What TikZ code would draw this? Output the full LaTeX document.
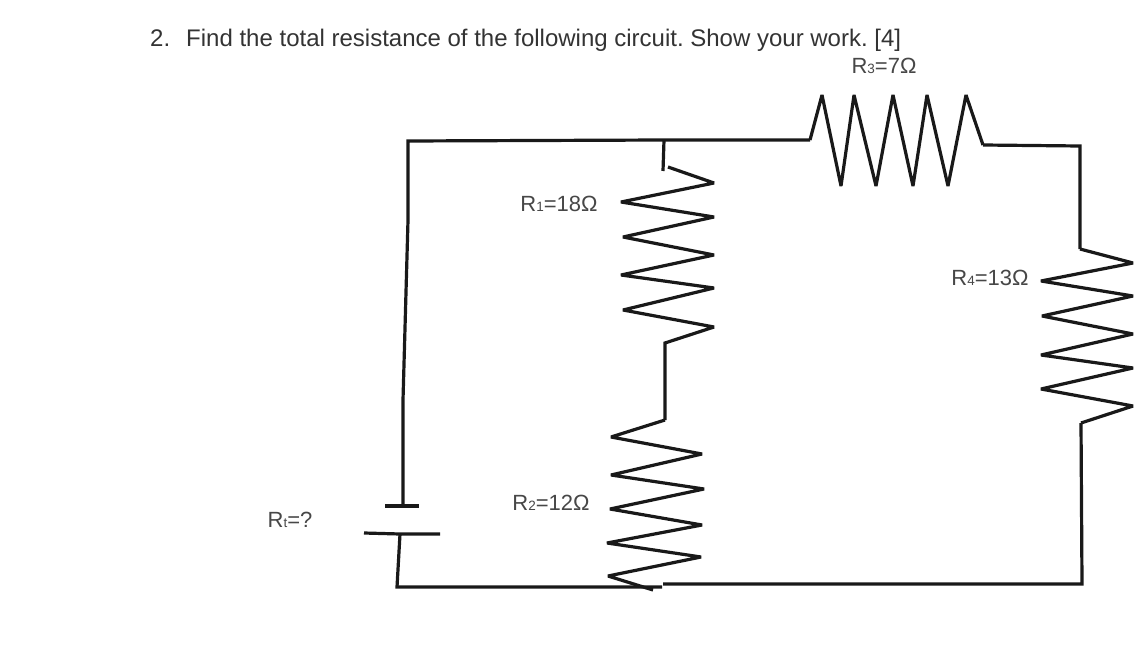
\documentclass[tikz,border=0pt]{standalone}
\usepackage{fontspec}
\setmainfont{Liberation Sans}
\usetikzlibrary{positioning}
\frenchspacing
\newcommand{\sm}[1]{{\fontsize{13.5}{13.5}\selectfont #1}}
\begin{document}
\begin{tikzpicture}[x=1pt,y=-1pt,
                    wire/.style={line width=3.2pt,black!90,line join=miter},
                    lbl/.style={font=\fontsize{22}{26}\selectfont,text=black!72,inner sep=0},
                    heading/.style={font=\fontsize{24}{28}\selectfont,text=black!80,inner sep=0,anchor=base west},
                    ]
    \useasboundingbox[fill=white] (0,0) rectangle (1145,647);

    \node[heading] (question) at (150,47) {2.\hspace{16pt}Find the total resistance of the following circuit. Show your work. [4]};
    \node[lbl] (labelthree) at (884,66) {R\sm{3}=7Ω};
    \node[lbl] (labelone) at (559,204) {R\sm{1}=18Ω};
    \node[lbl] (labelfour) at (990,278) {R\sm{4}=13Ω};
    \node[lbl] (labeltwo) at (551,503) {R\sm{2}=12Ω};
    \node[lbl] (labeltotal) at (290,520) {R\sm{t}=?};

    \coordinate (topleft) at (408,141);
    \coordinate (junctop) at (664,140);
    \coordinate (threein) at (810,140);
    \coordinate (threeout) at (983,145);
    \coordinate (topright) at (1080,146);
    \coordinate (fourin) at (1080,249);
    \coordinate (fourout) at (1081,423);
    \coordinate (botright) at (1082,584);
    \coordinate (junctbot) at (663,584);
    \coordinate (botend) at (662,587);
    \coordinate (botleft) at (397,587);
    \coordinate (cellneg) at (400,534);
    \coordinate (cellpos) at (403,506);
    \coordinate (oneend) at (663,171);
    \coordinate (onein) at (668,167);
    \coordinate (oneout) at (665,343);
    \coordinate (twoin) at (665,420);
    \coordinate (twoout) at (653,590);

    % outer loop
    \draw[wire] (cellpos) -- (403,400) -- (408,220) -- (topleft) -- (junctop) -- (threein);
    \draw[wire] (threeout) -- (topright) -- (fourin);
    \draw[wire] (fourout) -- (botright) -- (junctbot);
    \draw[wire] (botend) -- (botleft) -- (cellneg);

    % cell
    \draw[wire] (385,506) -- (cellpos) -- (419,506);
    \draw[wire] (364,533) -- (cellneg) -- (440,534);

    % resistors
    \draw[wire,miter limit=3] (threein) -- (822,95) -- (841,186) -- (854,95) -- (876,186) -- (893,95)
                -- (913,186) -- (927,95) -- (948,186) -- (966,95) -- (threeout);
    \draw[wire,miter limit=3] (fourin) -- (1133,263) -- (1041,281) -- (1133,296) -- (1042,316) -- (1133,334)
                -- (1041,355) -- (1133,368) -- (1041,389) -- (1133,406) -- (fourout);
    \draw[wire] (junctop) -- (oneend);
    \draw[wire,miter limit=3] (onein) -- (714,183) -- (621,202) -- (714,217) -- (623,237) -- (714,255)
                -- (621,275) -- (714,288) -- (623,310) -- (714,327) -- (oneout) -- (twoin);
    \draw[wire,miter limit=3] (twoin) -- (611,437) -- (702,454) -- (611,475) -- (704,489) -- (610,509)
                -- (702,525) -- (607,543) -- (701,557) -- (608,576) -- (twoout);
\end{tikzpicture}
\end{document}
